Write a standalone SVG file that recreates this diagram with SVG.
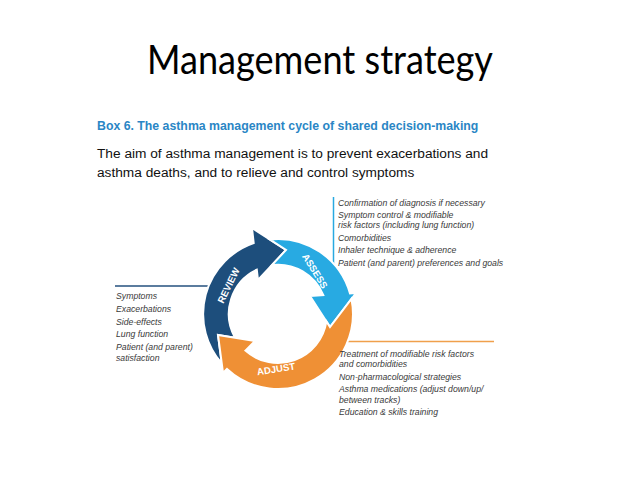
<svg xmlns="http://www.w3.org/2000/svg" width="638" height="478" viewBox="0 0 638 478">
<style>
.item{font-family:"Liberation Sans",Arial,sans-serif;font-style:italic;font-size:8.7px;fill:#3a3a3a}
.lbl{font-family:"Liberation Sans",Arial,sans-serif;font-weight:bold;font-size:9.6px;fill:#ffffff;text-anchor:middle}
.arr{stroke:#ffffff;stroke-width:2;stroke-linejoin:miter}
</style>
<rect width="638" height="478" fill="#ffffff"/>
<g id="title">
<text x="147" y="74" font-family="Lato,'Open Sans',sans-serif" font-size="40" fill="#000" textLength="346" lengthAdjust="spacingAndGlyphs">Management strategy</text>
</g>
<g id="box-heading">
<text x="97" y="130" font-family="'Liberation Sans',Arial,sans-serif" font-weight="bold" font-size="12.3" fill="#2a86c5">Box 6. The asthma management cycle of shared decision-making</text>
<text x="97" y="158" font-family="'Liberation Sans',Arial,sans-serif" font-size="13.7" fill="#111">The aim of asthma management is to prevent exacerbations and</text>
<text x="97" y="177" font-family="'Liberation Sans',Arial,sans-serif" font-size="13.7" fill="#111">asthma deaths, and to relieve and control symptoms</text>
</g>
<g id="connectors" fill="none">
<line x1="333.5" y1="197" x2="333.5" y2="290" stroke="#29a9e0" stroke-width="1.5"/>
<line x1="115" y1="286" x2="212" y2="286" stroke="#24507e" stroke-width="1.5"/>
<line x1="334" y1="341.5" x2="494" y2="341.5" stroke="#f0a04b" stroke-width="1.5"/>
</g>
<g id="review">
<path class="arr" fill="#1d4e7c" d="M 235,337.75 L 218,335 L 221.8,363.5 A 75 75 0 0 1 253.7,243.1 L 252,228 L 286,250 L 258,280 L 256.8,269.7 A 49 49 0 0 0 235,337.75 Z"/>
<text class="lbl" transform="translate(228.5,285.5) rotate(-64)" y="3.4">REVIEW</text>
</g>
<g id="assess">
<path class="arr" fill="#28aae2" d="M 271.9,265.1 L 286,250 L 269.7,239.4 A 75 75 0 0 1 350,293.4 L 356,293 L 330,327 L 310,296 L 323.3,295.1 A 49 49 0 0 0 271.9,265.1 Z"/>
<text class="lbl" transform="translate(315,271) rotate(58)" y="3.4">ASSESS</text>
</g>
<g id="adjust">
<path class="arr" fill="#ef9035" d="M 326.4,321.4 L 330,327 L 351.4,298.9 A 75 75 0 0 1 227,369 L 223,373 L 218,335 L 255,341 L 245.4,350.6 A 49 49 0 0 0 326.4,321.4 Z"/>
<text class="lbl" transform="translate(276,369) rotate(-9)" y="3.4">ADJUST</text>
</g>
<g id="assess-items">
<text class="item" x="338" y="206">Confirmation of diagnosis if necessary</text>
<text class="item" x="338" y="218">Symptom control &amp; modifiable</text>
<text class="item" x="338" y="228">risk factors (including lung function)</text>
<text class="item" x="338" y="241">Comorbidities</text>
<text class="item" x="338" y="253">Inhaler technique &amp; adherence</text>
<text class="item" x="338" y="266">Patient (and parent) preferences and goals</text>
</g>
<g id="review-items">
<text class="item" x="116" y="299">Symptoms</text>
<text class="item" x="116" y="312">Exacerbations</text>
<text class="item" x="116" y="324.5">Side-effects</text>
<text class="item" x="116" y="336.5">Lung function</text>
<text class="item" x="116" y="349.5">Patient (and parent)</text>
<text class="item" x="116" y="360.5">satisfaction</text>
</g>
<g id="adjust-items">
<text class="item" x="339" y="357">Treatment of modifiable risk factors</text>
<text class="item" x="339" y="366.5">and comorbidities</text>
<text class="item" x="339" y="379.5">Non-pharmacological strategies</text>
<text class="item" x="339" y="392">Asthma medications (adjust down/up/</text>
<text class="item" x="339" y="402.5">between tracks)</text>
<text class="item" x="339" y="415">Education &amp; skills training</text>
</g>
</svg>
